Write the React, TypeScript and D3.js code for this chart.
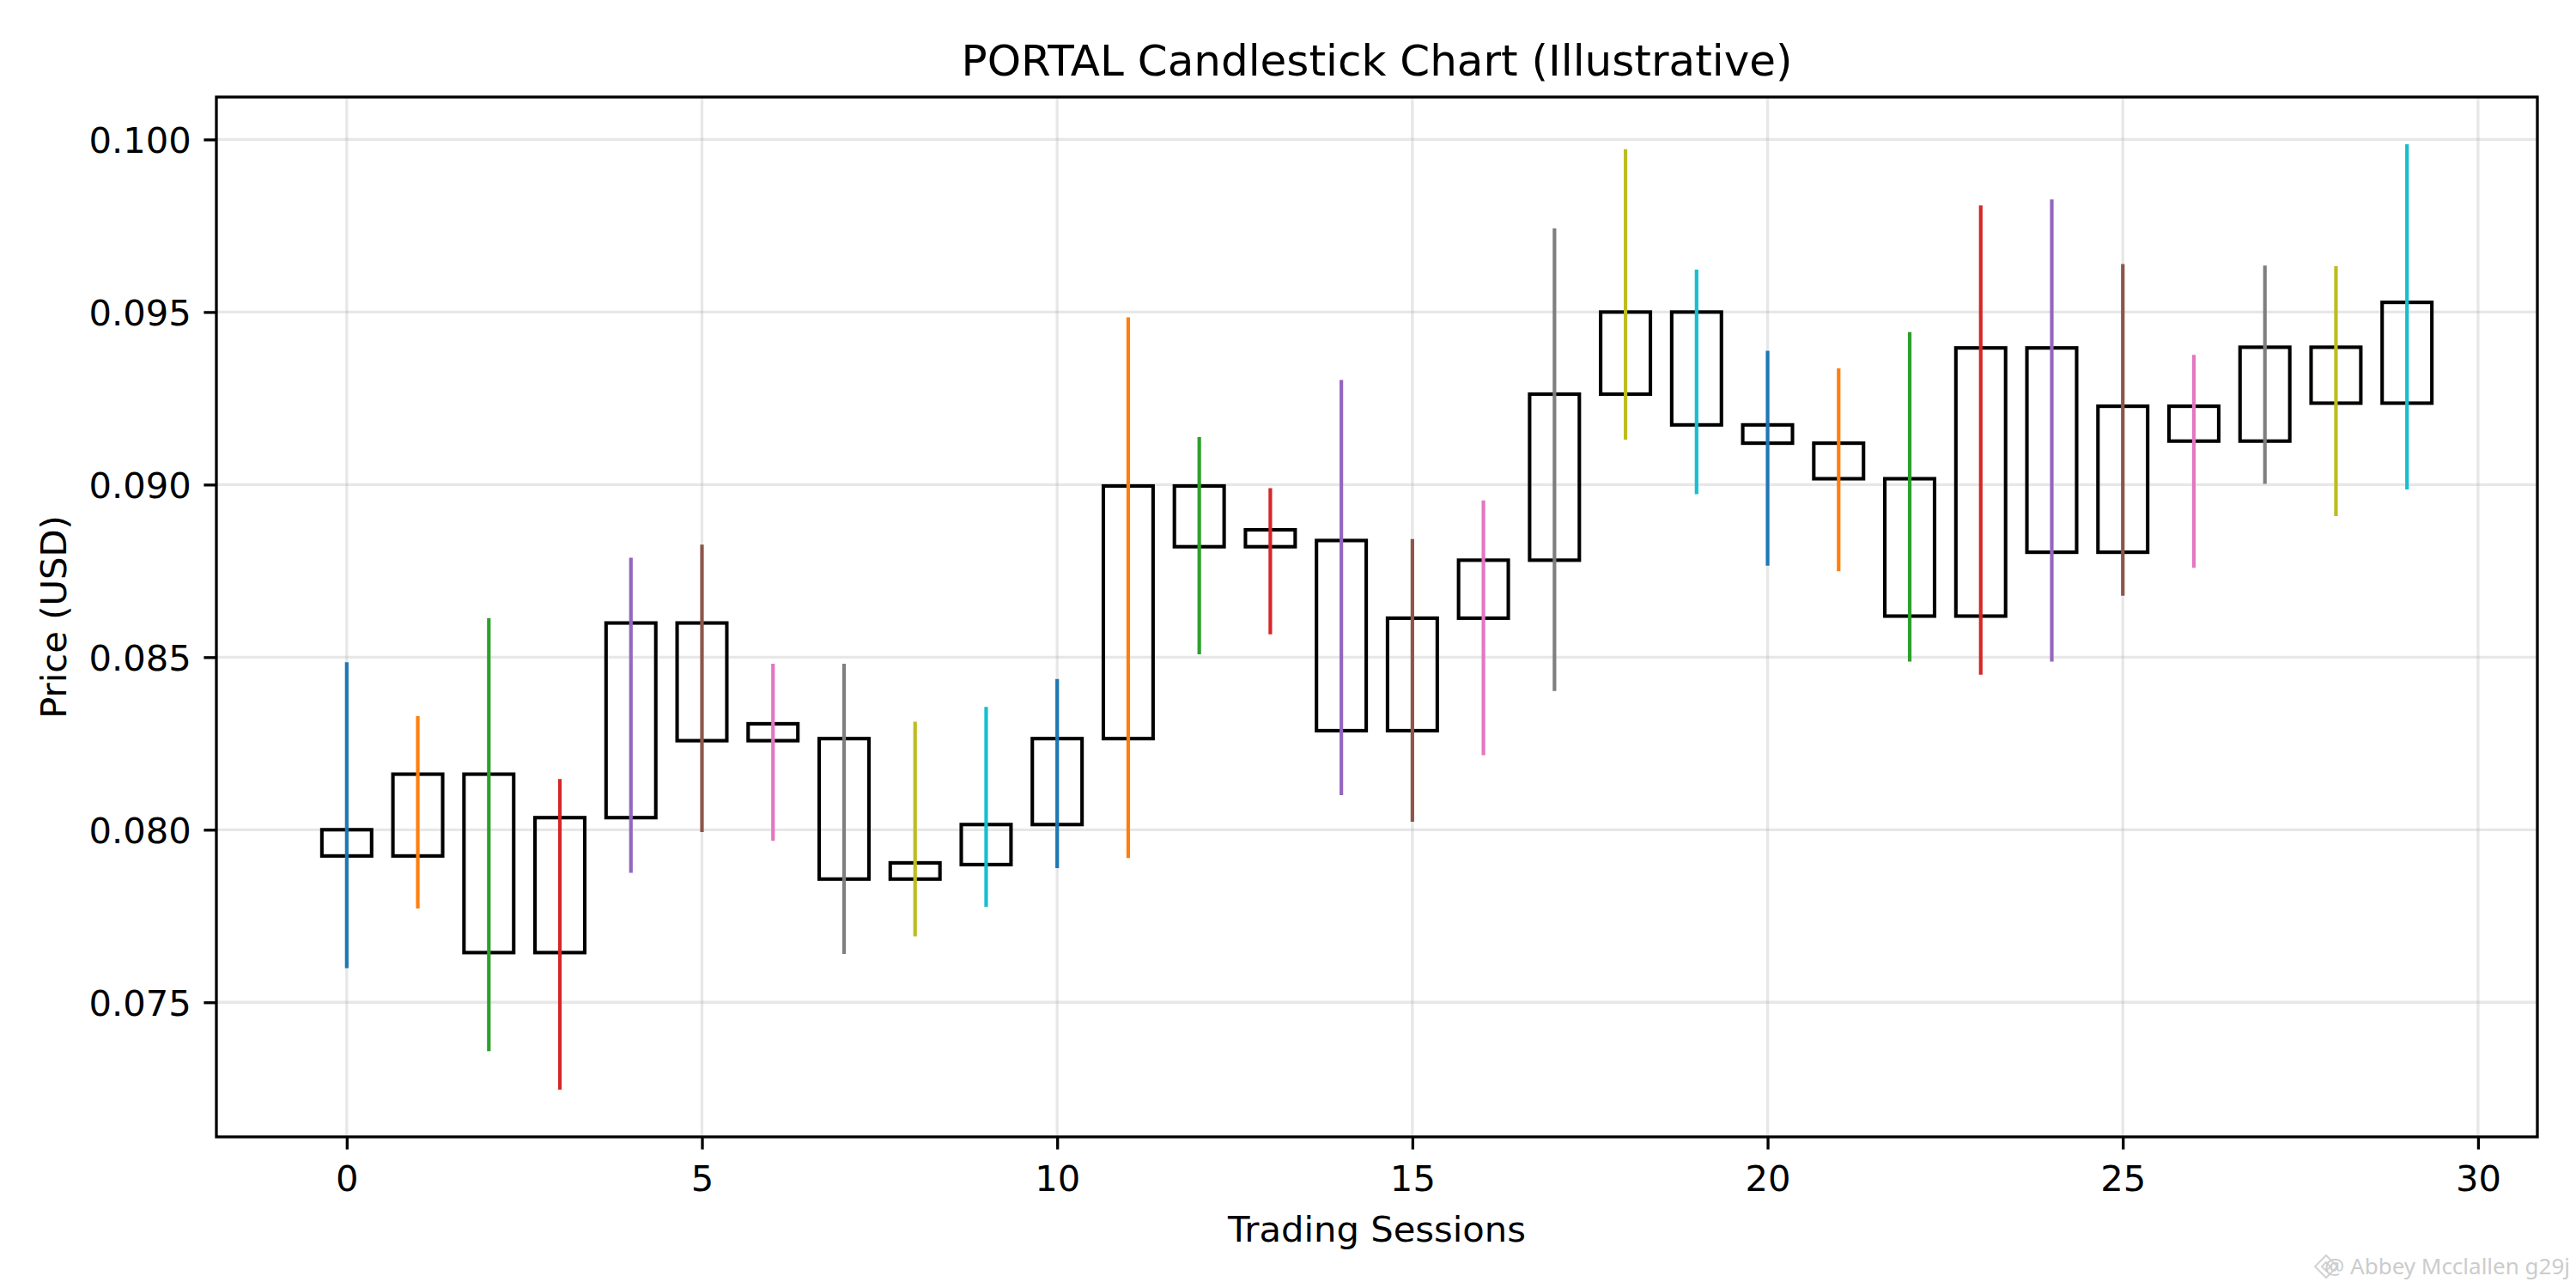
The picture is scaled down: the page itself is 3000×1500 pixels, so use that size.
import * as d3 from "d3";
import { useEffect, useRef } from "react";

// Session index on the x axis
const sessions = [
  0, 1, 2, 3, 4, 5, 6, 7, 8, 9, 10, 11, 12, 13, 14, 15, 16, 17, 18, 19, 20,
  21, 22, 23, 24, 25, 26, 27, 28, 29,
];

const opens = [
  0.08, 0.07924, 0.08161, 0.07644, 0.08035, 0.08599, 0.08258, 0.08264,
  0.07857, 0.07899, 0.08015, 0.08264, 0.08996, 0.0882, 0.08838, 0.08287,
  0.08613, 0.08781, 0.09262, 0.095, 0.09173, 0.0912, 0.09017, 0.08619,
  0.09396, 0.08804, 0.09227, 0.09126, 0.09398, 0.09236,
];

const closes = [
  0.07924, 0.08161, 0.07644, 0.08035, 0.08599, 0.08258, 0.08307, 0.07857,
  0.07904, 0.08015, 0.08264, 0.08996, 0.0882, 0.08869, 0.08287, 0.08613,
  0.08781, 0.09262, 0.095, 0.09173, 0.0912, 0.09017, 0.08619, 0.09396,
  0.08804, 0.09227, 0.09126, 0.09398, 0.09236, 0.09528,
];

const highs = [
  0.08485, 0.08329, 0.08613, 0.08147, 0.08788, 0.08826, 0.08481, 0.08481,
  0.08313, 0.08356, 0.08437, 0.09485, 0.09138, 0.0899, 0.09303, 0.08842,
  0.08954, 0.09742, 0.09972, 0.09623, 0.09388, 0.09337, 0.09442, 0.09809,
  0.09826, 0.09639, 0.09376, 0.09635, 0.09633, 0.09986,
];

const lows = [
  0.07599, 0.07772, 0.07358, 0.07247, 0.07875, 0.07993, 0.07968, 0.0764,
  0.07691, 0.07776, 0.07889, 0.07918, 0.08508, 0.08566, 0.081, 0.08023,
  0.08216, 0.08402, 0.0913, 0.08972, 0.08765, 0.08749, 0.08487, 0.08449,
  0.08487, 0.08678, 0.08759, 0.09002, 0.08909, 0.08986,
];

const xTicks = [0, 5, 10, 15, 20, 25, 30];
const yTicks = [0.075, 0.08, 0.085, 0.09, 0.095, 0.1];

// matplotlib tab10 cycle for the wicks
const wickColors = [
  "#1f77b4", "#ff7f0e", "#2ca02c", "#d62728", "#9467bd",
  "#8c564b", "#e377c2", "#7f7f7f", "#bcbd22", "#17becf",
];

const W = 3000;
const H = 1500;
const FONT = "'DejaVu Sans', sans-serif";

export default function App() {
  const svgRef = useRef<SVGSVGElement>(null);

  useEffect(() => {
    if (!svgRef.current) return;
    d3.select(svgRef.current).selectAll("*").remove();

    const svg = d3.select(svgRef.current);
    const margin = { top: 113, right: W - 2955, bottom: H - 1324, left: 252 };
    const width = W - margin.left - margin.right;
    const height = H - margin.top - margin.bottom;
    const bodyWidth = 0.7;

    const candles = sessions.map((s, i) => ({
      x: s,
      open: opens[i],
      close: closes[i],
      high: highs[i],
      low: lows[i],
    }));

    // 5% padding like matplotlib autoscale
    const xMin = d3.min(sessions)! - bodyWidth / 2;
    const xMax = d3.max(sessions)! + bodyWidth / 2;
    const xPad = (xMax - xMin) * 0.05;
    const yMin = d3.min(lows)!;
    const yMax = d3.max(highs)!;
    const yPad = (yMax - yMin) * 0.05;

    const xScale = d3
      .scaleLinear()
      .domain([xMin - xPad, xMax + xPad])
      .range([0, width]);
    const yScale = d3
      .scaleLinear()
      .domain([yMin - yPad, yMax + yPad])
      .range([height, 0]);

    svg
      .append("rect")
      .attr("width", W)
      .attr("height", H)
      .attr("fill", "white");

    const g = svg
      .append("g")
      .attr("transform", `translate(${margin.left},${margin.top})`);

    // Grid
    g.append("g")
      .selectAll("line")
      .data(xTicks)
      .enter()
      .append("line")
      .attr("x1", (d) => xScale(d))
      .attr("x2", (d) => xScale(d))
      .attr("y1", 0)
      .attr("y2", height)
      .attr("stroke", "#b0b0b0")
      .attr("stroke-opacity", 0.3)
      .attr("stroke-width", 3.3);

    g.append("g")
      .selectAll("line")
      .data(yTicks)
      .enter()
      .append("line")
      .attr("x1", 0)
      .attr("x2", width)
      .attr("y1", (d) => yScale(d))
      .attr("y2", (d) => yScale(d))
      .attr("stroke", "#b0b0b0")
      .attr("stroke-opacity", 0.3)
      .attr("stroke-width", 3.3);

    // Bodies
    g.append("g")
      .selectAll("rect")
      .data(candles)
      .enter()
      .append("rect")
      .attr("x", (d) => xScale(d.x - bodyWidth / 2))
      .attr("width", (d) => xScale(d.x + bodyWidth / 2) - xScale(d.x - bodyWidth / 2))
      .attr("y", (d) => yScale(Math.max(d.open, d.close)))
      .attr("height", (d) =>
        Math.abs(yScale(d.open) - yScale(d.close)),
      )
      .attr("fill", "none")
      .attr("stroke", "black")
      .attr("stroke-width", 4.1);

    // Wicks
    g.append("g")
      .selectAll("line")
      .data(candles)
      .enter()
      .append("line")
      .attr("x1", (d) => xScale(d.x))
      .attr("x2", (d) => xScale(d.x))
      .attr("y1", (d) => yScale(d.high))
      .attr("y2", (d) => yScale(d.low))
      .attr("stroke", (_, i) => wickColors[i % wickColors.length])
      .attr("stroke-width", 4.2);

    // Axes
    const xAxis = g
      .append("g")
      .attr("transform", `translate(0,${height})`)
      .call(
        d3
          .axisBottom(xScale)
          .tickValues(xTicks)
          .tickSize(14.6)
          .tickPadding(14.6)
          .tickFormat(d3.format("d")),
      );
    const yAxis = g.append("g").call(
      d3
        .axisLeft(yScale)
        .tickValues(yTicks)
        .tickSize(14.6)
        .tickPadding(14.6)
        .tickFormat(d3.format(".3f")),
    );

    [xAxis, yAxis].forEach((ax) => {
      ax.select(".domain").remove();
      ax.selectAll(".tick line")
        .attr("stroke", "black")
        .attr("stroke-width", 3.3);
      ax.selectAll(".tick text")
        .attr("fill", "black")
        .style("font-family", FONT)
        .style("font-size", "41.7px");
    });
    xAxis.selectAll(".tick text").attr("dy", null).attr("y", 63);
    yAxis.selectAll(".tick text").attr("dy", null).attr("y", 15);

    // Frame
    g.append("rect")
      .attr("width", width)
      .attr("height", height)
      .attr("fill", "none")
      .attr("stroke", "black")
      .attr("stroke-width", 3.3);

    // Titles
    svg
      .append("text")
      .attr("x", margin.left + width / 2)
      .attr("y", 88)
      .attr("text-anchor", "middle")
      .style("font-family", FONT)
      .style("font-size", "50px")
      .text("PORTAL Candlestick Chart (Illustrative)");

    svg
      .append("text")
      .attr("x", margin.left + width / 2)
      .attr("y", 1446)
      .attr("text-anchor", "middle")
      .style("font-family", FONT)
      .style("font-size", "41.7px")
      .text("Trading Sessions");

    svg
      .append("text")
      .attr("transform", `translate(77,${margin.top + height / 2}) rotate(-90)`)
      .attr("text-anchor", "middle")
      .style("font-family", FONT)
      .style("font-size", "41.7px")
      .text("Price (USD)");

    // Watermark
    const wm = svg.append("g").attr("fill", "none").attr("stroke", "#d2d2d2");
    const cx = 2709;
    const cy = 1475;
    wm.append("path")
      .attr("d", `M${cx},${cy - 13} L${cx + 13},${cy} L${cx},${cy + 13} L${cx - 13},${cy} Z`)
      .attr("stroke-width", 2);
    wm.append("path")
      .attr("d", `M${cx},${cy - 5} L${cx + 5},${cy} L${cx},${cy + 5} L${cx - 5},${cy} Z`)
      .attr("stroke-width", 2);
    svg
      .append("text")
      .attr("x", 2993)
      .attr("y", 1484)
      .attr("text-anchor", "end")
      .attr("fill", "#cccccc")
      .style("font-family", "'Noto Sans', sans-serif")
      .style("font-size", "26px")
      .text("@ Abbey Mcclallen g29j");
  }, []);

  return (
    <svg
      ref={svgRef}
      width={W}
      height={H}
      style={{ position: "absolute", left: 0, top: 0 }}
    />
  );
}
